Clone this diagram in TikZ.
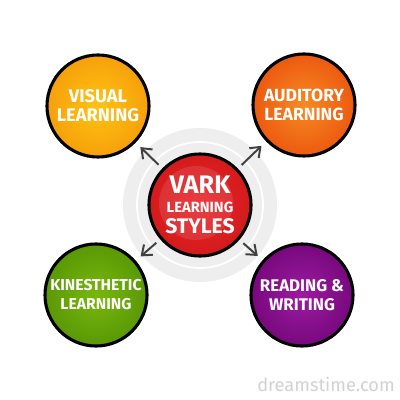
\documentclass[tikz,border=0pt]{standalone}
\usepackage{fontspec}
\setmainfont{Fira Sans}
\usepackage{xcolor}
\usetikzlibrary{arrows.meta,positioning}

\definecolor{visualin}{HTML}{FFC414}
\definecolor{visualout}{HTML}{F6A00A}
\definecolor{audin}{HTML}{F78A22}
\definecolor{audout}{HTML}{EC5A10}
\definecolor{varkin}{HTML}{E8262A}
\definecolor{varkout}{HTML}{D41A1C}
\definecolor{kinin}{HTML}{78B80C}
\definecolor{kinout}{HTML}{5A9806}
\definecolor{readin}{HTML}{9C1CA0}
\definecolor{readout}{HTML}{78087E}

\begin{document}
\begin{tikzpicture}[x=0.025cm, y=-0.025cm,
        topic/.style={draw=black, line width=2.2pt, circle, minimum size=2.55cm, inner sep=0pt, align=center, text=white},
        arrow/.style={-{Straight Barb[length=2.2mm,width=3.4mm]}, line width=1.4pt, draw=black!75, shorten <=1.3mm, shorten >=1.6mm}
    ]
        \fill[white] (0,0) rectangle (400,400);
        
        % Ring behind the centre
        \fill[gray!13] (200,205) circle (77);
        \draw[white, line width=1.2pt] (200,205) circle (63);
        
        % Centre
        \node (vark) at (200,205) [topic, inner color=varkin, outer color=varkout,
            font=\bfseries] {{\fontsize{18}{18}\selectfont VARK}\\[2pt]{\fontsize{10.5}{10.5}\selectfont LEARNING}\\[3pt]{\fontsize{15}{15}\selectfont STYLES}};
        \fill[white, opacity=0.1] (196,203) circle (37);
        
        % Styles
        \node (visual) at (98,106) [topic, inner color=visualin, outer color=visualout,
            font=\fontsize{13}{13.5}\selectfont\bfseries] {VISUAL\\LEARNING};
        \node (auditory) at (304,105) [topic, inner color=audin, outer color=audout,
            font=\fontsize{12.5}{13.5}\selectfont\bfseries] {AUDITORY\\LEARNING};
        \node (kin) at (96,295) [topic, inner color=kinin, outer color=kinout,
            font=\fontsize{11.2}{13.5}\selectfont\bfseries] {KINESTHETIC\\LEARNING};
        \node (reading) at (302,295) [topic, inner color=readin, outer color=readout,
            font=\fontsize{12}{13.5}\selectfont\bfseries] {READING \&\\WRITING};
        
        % Arrows
        \draw [arrow] (vark) -- (visual);
        \draw [arrow] (vark) -- (auditory);
        \draw [arrow] (vark) -- (kin);
        \draw [arrow] (vark) -- (reading);
        
        \node (mark) at (326,384) [text=gray!35, font=\fontsize{13}{13}\selectfont] {dreamstime.com};
    \end{tikzpicture}
\end{document}
